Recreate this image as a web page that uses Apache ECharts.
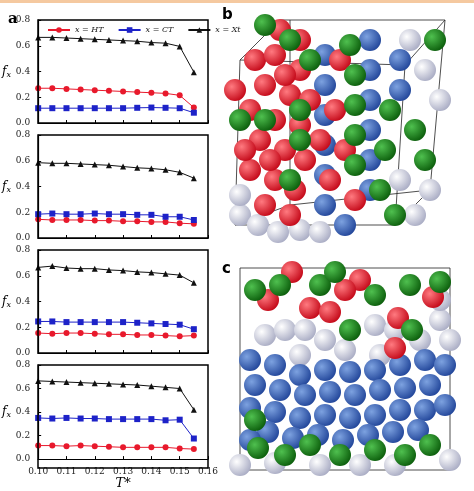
<!DOCTYPE html>
<html>
<head>
<meta charset="utf-8">
<script src="https://cdn.jsdelivr.net/npm/echarts@6/dist/echarts.min.js"></script>
<style>
  html, body { margin: 0; padding: 0; background: #fff; }
  #main { width: 474px; height: 491px; }
</style>
</head>
<body>
<div id="main"></div>
<script>
const temps = [0.100, 0.105, 0.110, 0.115, 0.120, 0.125, 0.130, 0.135, 0.140, 0.145, 0.150, 0.155]
// four panels, top to bottom
const htVals = [
  [0.27, 0.27, 0.265, 0.26, 0.255, 0.25, 0.245, 0.24, 0.235, 0.23, 0.215, 0.12],
  [0.145, 0.14, 0.14, 0.14, 0.135, 0.135, 0.13, 0.13, 0.125, 0.125, 0.115, 0.11],
  [0.155, 0.15, 0.155, 0.155, 0.15, 0.145, 0.145, 0.14, 0.14, 0.135, 0.13, 0.135],
  [0.115, 0.115, 0.11, 0.115, 0.11, 0.105, 0.1, 0.1, 0.1, 0.1, 0.09, 0.085]
]
const ctVals = [
  [0.115, 0.115, 0.115, 0.115, 0.115, 0.115, 0.115, 0.118, 0.12, 0.118, 0.115, 0.08],
  [0.185, 0.19, 0.185, 0.185, 0.19, 0.185, 0.185, 0.18, 0.18, 0.165, 0.165, 0.14],
  [0.245, 0.245, 0.24, 0.24, 0.24, 0.24, 0.24, 0.235, 0.23, 0.225, 0.22, 0.185],
  [0.35, 0.345, 0.35, 0.345, 0.345, 0.34, 0.34, 0.34, 0.34, 0.33, 0.335, 0.175]
]
const xtVals = [
  [0.665, 0.665, 0.66, 0.655, 0.65, 0.645, 0.64, 0.635, 0.625, 0.62, 0.595, 0.395],
  [0.585, 0.58, 0.58, 0.575, 0.57, 0.565, 0.555, 0.545, 0.54, 0.53, 0.51, 0.465],
  [0.665, 0.675, 0.66, 0.655, 0.655, 0.645, 0.64, 0.63, 0.625, 0.615, 0.605, 0.545],
  [0.665, 0.66, 0.655, 0.65, 0.645, 0.64, 0.635, 0.63, 0.62, 0.61, 0.6, 0.42]
]
const seriesNames = ['x = HT', 'x = CT', 'x = Xt']

// sphere snapshots, pixel-ish positions [x, y]
const bRed = [[255,60],[275,55],[300,70],[265,85],[290,95],[250,110],[275,120],[300,125],[260,140],[285,150],[305,160],[250,170],[275,180],[295,190],[265,205],[290,215],[310,100],[320,140],[330,180],[235,90],[245,150],[280,30],[300,40],[340,60],[335,110],[345,150],[355,200],[270,160],[285,75]]
const bBlue = [[325,55],[325,85],[325,115],[325,145],[325,175],[325,205],[370,40],[370,70],[370,100],[370,130],[370,160],[370,190],[400,60],[400,90],[345,225]]
const bGreen = [[265,25],[290,40],[310,60],[300,110],[300,140],[290,180],[350,45],[355,75],[355,105],[355,135],[355,165],[390,110],[385,150],[380,190],[415,130],[425,160],[395,215],[435,40],[240,120],[265,120]]
const bWhite = [[240,215],[258,225],[278,232],[300,230],[320,232],[240,195],[425,70],[440,100],[400,180],[430,190],[415,215],[410,40]]
const cRed = [[292,272],[268,300],[310,308],[330,312],[360,280],[398,318],[433,297],[395,348],[345,290]]
const cGreen = [[255,290],[280,285],[320,285],[335,272],[375,295],[410,285],[440,282],[350,330],[412,330],[258,448],[285,455],[310,445],[340,455],[375,450],[405,455],[430,445],[255,420]]
const cWhite = [[265,335],[285,330],[305,330],[325,340],[345,350],[375,325],[395,330],[420,340],[380,355],[300,355],[440,320],[440,300],[450,340],[240,465],[275,463],[320,465],[360,465],[395,465],[450,460]]
const cBlue = [[250,360],[275,365],[300,375],[325,370],[350,372],[375,370],[400,365],[425,360],[445,365],
  [255,385],[280,390],[305,395],[330,392],[355,395],[380,390],[405,388],[430,385],
  [250,408],[275,412],[300,418],[325,415],[350,418],[375,415],[400,410],[425,410],[445,405],
  [268,432],[293,438],[318,435],[343,440],[368,435],[393,432],[418,430],[250,440]]

const panelTops = [20, 135, 250, 365]
const grids = panelTops.map(t => ({ left: 38, top: t, width: 170, height: 103 }))
grids.push({ left: 228, top: 0, width: 246, height: 491 })

const xAxes = panelTops.map((t, i) => ({
  gridIndex: i, type: 'value', min: 0.1, max: 0.16, interval: 0.01,
  axisLine: { lineStyle: { color: '#000', width: 1.2 } },
  axisTick: { inside: true, length: 3, lineStyle: { color: '#000' } },
  axisLabel: { show: i === 3, fontFamily: 'DejaVu Serif', fontSize: 9, color: '#222', formatter: v => v.toFixed(2) },
  splitLine: { show: false },
  name: i === 3 ? 'T*' : '', nameLocation: 'middle', nameGap: 14,
  nameTextStyle: { fontFamily: 'DejaVu Serif', fontStyle: 'italic', fontSize: 13, color: '#000' }
}))
xAxes.push({ gridIndex: 4, type: 'value', min: 228, max: 474, show: false })
const yAxes = panelTops.map((t, i) => ({
  gridIndex: i, type: 'value', min: 0, max: 0.8, interval: 0.2,
  axisLine: { show: true, lineStyle: { color: '#000', width: 1.2 } },
  axisTick: { inside: true, length: 3, lineStyle: { color: '#000' } },
  axisLabel: { fontFamily: 'DejaVu Serif', fontSize: 9, color: '#222', formatter: v => v.toFixed(1) },
  splitLine: { show: false },
  name: '{f|f}{s|x}', nameLocation: 'middle', nameGap: 24, nameRotate: 0,
  nameTextStyle: {
    rich: {
      f: { fontFamily: 'DejaVu Serif', fontStyle: 'italic', fontSize: 12, color: '#000' },
      s: { fontFamily: 'DejaVu Serif', fontStyle: 'italic', fontSize: 8, color: '#000', padding: [6, 0, 0, 0] }
    }
  }
}))
yAxes.push({ gridIndex: 4, type: 'value', min: 0, max: 491, inverse: true, show: false })

const colors = ['#e8192c', '#1d22c8', '#111']
const symbols = ['circle', 'rect', 'triangle']
const series = []
;[htVals, ctVals, xtVals].forEach((vals, s) => {
  vals.forEach((row, p) => {
    series.push({
      name: seriesNames[s], type: 'line', xAxisIndex: p, yAxisIndex: p,
      data: temps.map((t, k) => [t, row[k]]),
      symbol: symbols[s], symbolSize: 6,
      lineStyle: { color: colors[s], width: 1 },
      itemStyle: { color: colors[s] },
      silent: true
    })
  })
})

function sphere (name, pts, c1, c2) {
  return {
    name, type: 'scatter', xAxisIndex: 4, yAxisIndex: 4, data: pts, symbolSize: 22, silent: true,
    itemStyle: {
      color: { type: 'radial', x: 0.35, y: 0.35, r: 0.7, colorStops: [{ offset: 0, color: c1 }, { offset: 1, color: c2 }] },
      opacity: 1
    }
  }
}
series.push(
  sphere('bw', bWhite, '#ffffff', '#a9acc4'),
  sphere('bb', bBlue, '#7da2e0', '#22469a'),
  sphere('br', bRed, '#ff7a80', '#c40818'),
  sphere('bg', bGreen, '#4fc04f', '#0c5e0c'),
  sphere('cw', cWhite, '#ffffff', '#a9acc4'),
  sphere('cb', cBlue, '#7da2e0', '#22469a'),
  sphere('cr', cRed, '#ff7a80', '#c40818'),
  sphere('cg', cGreen, '#4fc04f', '#0c5e0c')
)

const boxes = [
  [[240, 60], [280, 20], [445, 20], [430, 190], [395, 225], [235, 225], [240, 60]],
  [[240, 60], [405, 65], [445, 20]], [[405, 65], [395, 225]],
  [[290, 20], [290, 205], [235, 225]], [[290, 205], [430, 190]],
  [[240, 268], [450, 268], [450, 470], [240, 470], [240, 268]]
]

const chart = echarts.init(document.getElementById('main'))
chart.setOption({
  animation: false,
  grid: grids,
  xAxis: xAxes,
  yAxis: yAxes,
  legend: {
    data: seriesNames, top: 21, left: 42, itemWidth: 22, itemHeight: 7, itemGap: 14,
    textStyle: { fontFamily: 'DejaVu Serif', fontStyle: 'italic', fontSize: 8, color: '#222' }
  },
  graphic: [
    { type: 'rect', left: 0, top: 0, shape: { width: 474, height: 3 }, style: { fill: '#f5c9a0' } },
    { type: 'text', left: 8, top: 12, style: { text: 'a', font: 'bold 15px DejaVu Serif', fill: '#000' } },
    { type: 'text', left: 222, top: 8, style: { text: 'b', font: 'bold 15px DejaVu Sans', fill: '#000' } },
    { type: 'text', left: 222, top: 262, style: { text: 'c', font: 'bold 15px DejaVu Sans', fill: '#000' } },
    ...panelTops.map(t => ({ type: 'rect', shape: { x: 38, y: t, width: 170, height: 103 }, style: { fill: 'none', stroke: '#000', lineWidth: 1.5 }, z: 10 })),
    ...boxes.map(b => ({ type: 'polyline', shape: { points: b }, style: { stroke: '#222', lineWidth: 0.8, fill: 'none' }, z: 0 }))
  ],
  series
})
</script>
</body>
</html>
